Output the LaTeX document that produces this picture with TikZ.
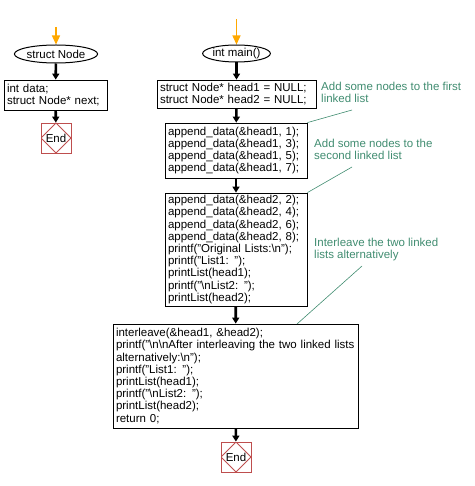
\documentclass[tikz,border=0pt]{standalone}
\usepackage{fontspec}
\setmainfont{Liberation Sans}
\usetikzlibrary{arrows.meta, shapes.geometric}
\definecolor{noteclr}{RGB}{64,140,112}
\definecolor{startclr}{RGB}{255,168,0}
\definecolor{endclr}{RGB}{190,78,78}
\newcommand{\bs}{\textbackslash}

\begin{document}
\begin{tikzpicture}[x=1pt, y=-1pt, font=\fontsize{11.5}{12.2}\selectfont,
        entry/.style={ellipse, draw=black, line width=1pt, fill=white, inner sep=0pt},
        stmt/.style={rectangle, draw=black, line width=0.8pt, fill=white, align=left,
                     inner xsep=3pt, inner ysep=2pt},
        stop/.style={rectangle, draw=endclr, line width=0.8pt, fill=white, minimum size=30pt, inner sep=0pt,
                     path picture={\draw[endclr, line width=0.8pt] (path picture bounding box.north)
                        -- (path picture bounding box.east) -- (path picture bounding box.south)
                        -- (path picture bounding box.west) -- cycle;}},
        flow/.style={-{Triangle[length=6pt, width=7pt]}, line width=2.6pt, black},
        begin/.style={-{Triangle[length=9pt, width=8pt]}, line width=1.4pt, startclr},
        note/.style={text=noteclr, align=left, anchor=north west, inner sep=0pt},
        noteline/.style={draw=noteclr, line width=0.6pt}
    ]
        \useasboundingbox (0,0) rectangle (474,486);

        % struct definition
        \coordinate (inL) at (56,27);
        \node[entry, minimum width=75pt, minimum height=18pt] (structN) at (56,54) {struct Node};
        \node[stmt, text width=97pt, minimum height=30pt] (fields) at (55.5,95)
            {int data;\\struct Node* next;};
        \node[stop] (endL) at (56,138) {End};

        % main
        \coordinate (inM) at (236.5,19);
        \node[entry, minimum width=63pt, minimum height=17pt] (mainfn) at (236.5,53.5) {int main()};
        \node[stmt, text width=153pt, minimum height=28pt] (heads) at (236.5,94)
            {struct Node* head1 = NULL;\\struct Node* head2 = NULL;};
        \node[stmt, text width=136pt, minimum height=55pt] (fillA) at (236,150.5)
            {append\_data(\&head1, 1);\\append\_data(\&head1, 3);\\append\_data(\&head1, 5);\\append\_data(\&head1, 7);};
        \node[stmt, text width=136pt, minimum height=113pt] (fillB) at (236,249.5)
            {append\_data(\&head2, 2);\\append\_data(\&head2, 4);\\append\_data(\&head2, 6);\\append\_data(\&head2, 8);\\
             printf("Original Lists:\bs n");\\printf("List1: ");\\printList(head1);\\printf("\bs nList2: ");\\printList(head2);};
        \node[stmt, text width=239pt, minimum height=104pt] (mixed) at (235.5,376)
            {interleave(\&head1, \&head2);\\printf("\bs n\bs nAfter interleaving the two linked lists\\alternatively:\bs n");\\
             printf("List1: ");\\printList(head1);\\printf("\bs nList2: ");\\printList(head2);\\return 0;};
        \node[stop] (endM) at (236,457) {End};

        % comments
        \node[note] (noteA) at (321,82) {Add some nodes to the first\\linked list};
        \node[note] (noteB) at (314,139) {Add some nodes to the\\second linked list};
        \node[note] (noteC) at (314,238) {Interleave the two linked\\lists alternatively};
        \coordinate (tailA) at (352,110);
        \coordinate (tailB) at (352,167);
        \coordinate (tailC) at (362,266);
        \coordinate (hitC) at (297,324);
        \draw[noteline] (tailA) -- (fillA.north east);
        \draw[noteline] (tailB) -- (fillB.north east);
        \draw[noteline] (tailC) -- (hitC);

        \draw[begin] (inL) -- (structN);
        \draw[begin] (inM) -- (mainfn);
        \foreach \a/\b in {structN/fields, fields/endL, mainfn/heads, heads/fillA, fillA/fillB, fillB/mixed, mixed/endM}
            \draw[flow] (\a) -- (\b);
    \end{tikzpicture}
\end{document}
